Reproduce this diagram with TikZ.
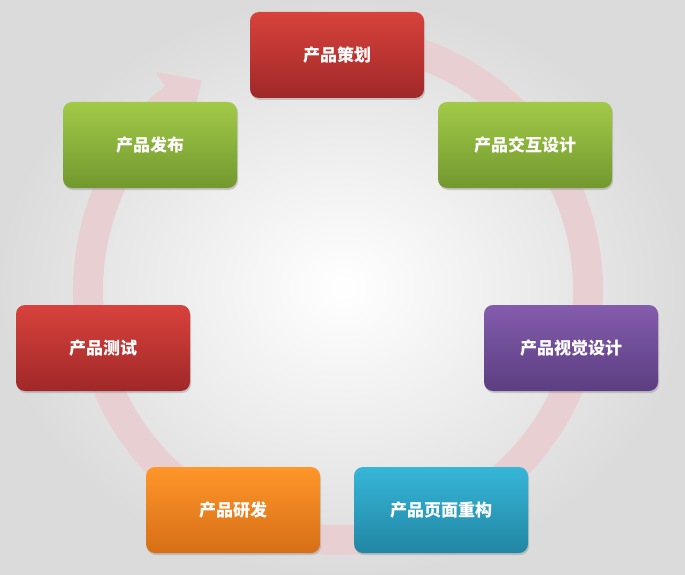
\documentclass[tikz,border=0pt]{standalone}
\usepackage{fontspec}
\newfontfamily\cjk{Noto Sans CJK SC}
\usetikzlibrary{arrows.meta,shadows}

\definecolor{redtop}{RGB}{216,66,60}
\definecolor{redbot}{RGB}{160,40,40}
\definecolor{greentop}{RGB}{162,202,72}
\definecolor{greenbot}{RGB}{114,152,46}
\definecolor{purpletop}{RGB}{132,92,172}
\definecolor{purplebot}{RGB}{92,62,130}
\definecolor{bluetop}{RGB}{54,182,216}
\definecolor{bluebot}{RGB}{34,134,164}
\definecolor{orangetop}{RGB}{255,150,42}
\definecolor{orangebot}{RGB}{214,110,22}
\definecolor{ringcol}{RGB}{232,208,210}

\tikzset{
  stagebox/.style n args={2}{rounded corners=9pt, minimum width=174pt, minimum height=86pt,
    top color=#1, bottom color=#2, drop shadow={opacity=0.35,shadow xshift=1pt,shadow yshift=-2pt},
    text=white, font=\cjk\bfseries\fontsize{17}{20}\selectfont}
}

\begin{document}
\begin{tikzpicture}[x=1pt,y=-1pt]
  % background
  \shade[inner color=white, outer color=gray!28] (0,0) rectangle (685,575);
  \useasboundingbox (0,0) rectangle (685,575);

  % cycle ring
  \draw[ringcol, line width=30pt, -{Triangle[width=62pt,length=34pt]}]
    (338,290) ++(-80:250) arc[start angle=-80, end angle=237, radius=250];

  % stages
  \node[stagebox={redtop}{redbot}]       (plan)     at (337,55)  {产品策划};
  \node[stagebox={greentop}{greenbot}]   (interact) at (525,145) {产品交互设计};
  \node[stagebox={purpletop}{purplebot}] (visual)   at (571,348) {产品视觉设计};
  \node[stagebox={bluetop}{bluebot}]     (rebuild)  at (441,510) {产品页面重构};
  \node[stagebox={orangetop}{orangebot}] (develop)  at (233,510) {产品研发};
  \node[stagebox={redtop}{redbot}]       (test)     at (103,348) {产品测试};
  \node[stagebox={greentop}{greenbot}]   (release)  at (150,145) {产品发布};
\end{tikzpicture}
\end{document}
